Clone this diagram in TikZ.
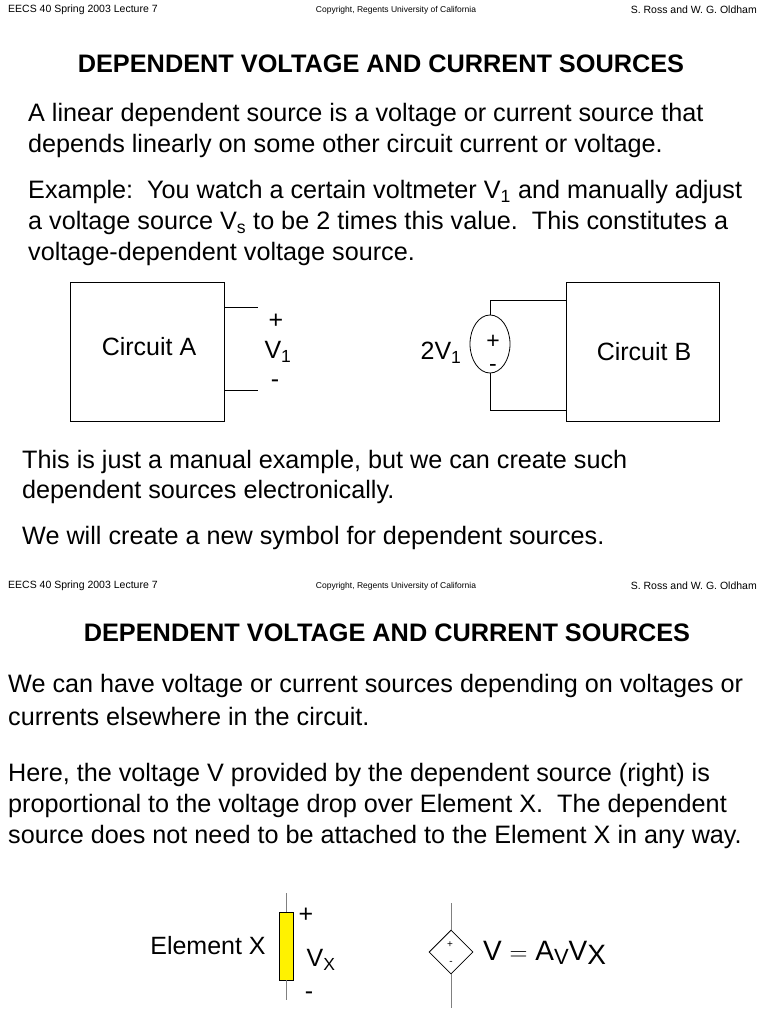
\documentclass[tikz,border=0pt]{standalone}
\usepackage{fontspec}
\setmainfont{Liberation Sans}
\usetikzlibrary{shapes.geometric}
\begin{document}
\begin{tikzpicture}[x=1pt,y=-1pt,
  hdr/.style={font=\fontsize{10.5}{12}\selectfont,inner sep=0},
  hdrs/.style={font=\fontsize{8.5}{10}\selectfont,inner sep=0},
  ttl/.style={font=\fontsize{25.3}{30}\selectfont\bfseries,inner sep=0},
  body/.style={font=\fontsize{25.2}{31}\selectfont,inner sep=0,anchor=west},
  lbl/.style={font=\fontsize{25}{30}\selectfont,inner sep=0},
  sm/.style={font=\fontsize{23}{25}\selectfont,inner sep=0},
  wire/.style={draw,line width=0.8pt}]
\useasboundingbox (0,0) rectangle (768,1024);
% headers
\foreach \y/\n in {10/a,586/b}{
 \node[hdr,anchor=west] (hl\n) at (8,\y) {EECS 40 Spring 2003 Lecture 7};
 \node[hdrs] (hc\n) at (396,\y) {Copyright, Regents University of California};
 \node[hdr,anchor=east] (hr\n) at (757,\y) {S. Ross and W. G. Oldham};
}
\node[ttl] (t1) at (381,64) {DEPENDENT VOLTAGE AND CURRENT SOURCES};
\node[body] (p1) at (28,115) {A linear dependent source is a voltage or current source that};
\node[body] (p2) at (28,146) {depends linearly on some other circuit current or voltage.};
\node[body] (p3) at (28,192) {Example:\ \ You watch a certain voltmeter V\textsubscript{1} and manually adjust};
\node[body] (p4) at (28,223) {a voltage source V\textsubscript{s} to be 2 times this value.\ \ This constitutes a};
\node[body] (p5) at (28,254) {voltage-dependent voltage source.};
% circuit A
\node[draw,line width=0.8pt,minimum width=154,minimum height=139,inner sep=0] (ca) at (147,351.5) {};
\node[lbl] (cat) at (149,347) {Circuit A};
\coordinate (a1) at (224,307); \coordinate (a1e) at (258,307);
\coordinate (a2) at (224,390); \coordinate (a2e) at (258,390);
\draw[wire] (a1) -- (a1e); \draw[wire] (a2) -- (a2e);
\node[lbl] (ap) at (276,321) {+};
\node[lbl] (av) at (278,352) {V\textsubscript{1}};
\node[lbl] (am) at (275,384) {-};
% circuit B
\node[draw,line width=0.8pt,minimum width=153,minimum height=139,inner sep=0] (cb) at (642.5,351.5) {};
\node[lbl] (cbt) at (644,352) {Circuit B};
\node[draw,ellipse,line width=0.8pt,minimum width=40,minimum height=58,inner sep=0] (src) at (490,344) {};
\node[sm] (sp) at (493,342) {+};
\node[sm] (sm1) at (493,368) {-};
\node[lbl] (sv) at (441,353) {2V\textsubscript{1}};
\coordinate (b1) at (566,300); \coordinate (b2) at (566,410);
\draw[wire] (src.north) |- (b1);
\draw[wire] (src.south) |- (b2);
\node[body] (q1) at (22,462) {This is just a manual example, but we can create such};
\node[body] (q2) at (22,492) {dependent sources electronically.};
\node[body] (q3) at (22,538) {We will create a new symbol for dependent sources.};
% second page
\node[ttl] (t2) at (387,633) {DEPENDENT VOLTAGE AND CURRENT SOURCES};
\node[body] (r1) at (8,686) {We can have voltage or current sources depending on voltages or};
\node[body] (r2) at (8,716) {currents elsewhere in the circuit.};
\node[body] (r3) at (8,775) {Here, the voltage V provided by the dependent source (right) is};
\node[body] (r4) at (8,806) {proportional to the voltage drop over Element X.\ \ The dependent};
\node[body] (r5) at (8,837) {source does not need to be attached to the Element X in any way.};
% element X
\coordinate (x1) at (286,893); \coordinate (x2) at (286,1000);
\node[draw,fill=yellow,line width=0.7pt,minimum width=14,minimum height=68,inner sep=0] (ex) at (286,946) {};
\draw[draw=gray,line width=0.8pt] (x1) -- (ex.north) (ex.south) -- (x2);
\node[lbl] (ext) at (208,946) {Element X};
\node[lbl] (exp) at (306,915) {+};
\node[lbl] (exv) at (321,960) {V\textsubscript{X}};
\node[lbl] (exm) at (309,996) {-};
% dependent source
\node[draw,diamond,shape aspect=1,line width=0.8pt,minimum width=44,minimum height=44,inner sep=0] (ds) at (451,952) {};
\node[font=\fontsize{10}{11}\selectfont,inner sep=0] (dsp) at (450,945) {+};
\node[font=\fontsize{10}{11}\selectfont,inner sep=0] (dsm) at (451,963) {-};
\coordinate (d1) at (451,903); \coordinate (d2) at (451,1008);
\draw[draw=gray,line width=0.8pt] (d1) -- (ds.north) (ds.south) -- (d2);
\node[font=\fontsize{28}{32}\selectfont,inner sep=0,anchor=west] (eq) at (483,953) {V $=$ A\raisebox{-0.3ex}{\fontsize{22}{24}\selectfont V}V\raisebox{-0.25ex}{X}};
\end{tikzpicture}
\end{document}
